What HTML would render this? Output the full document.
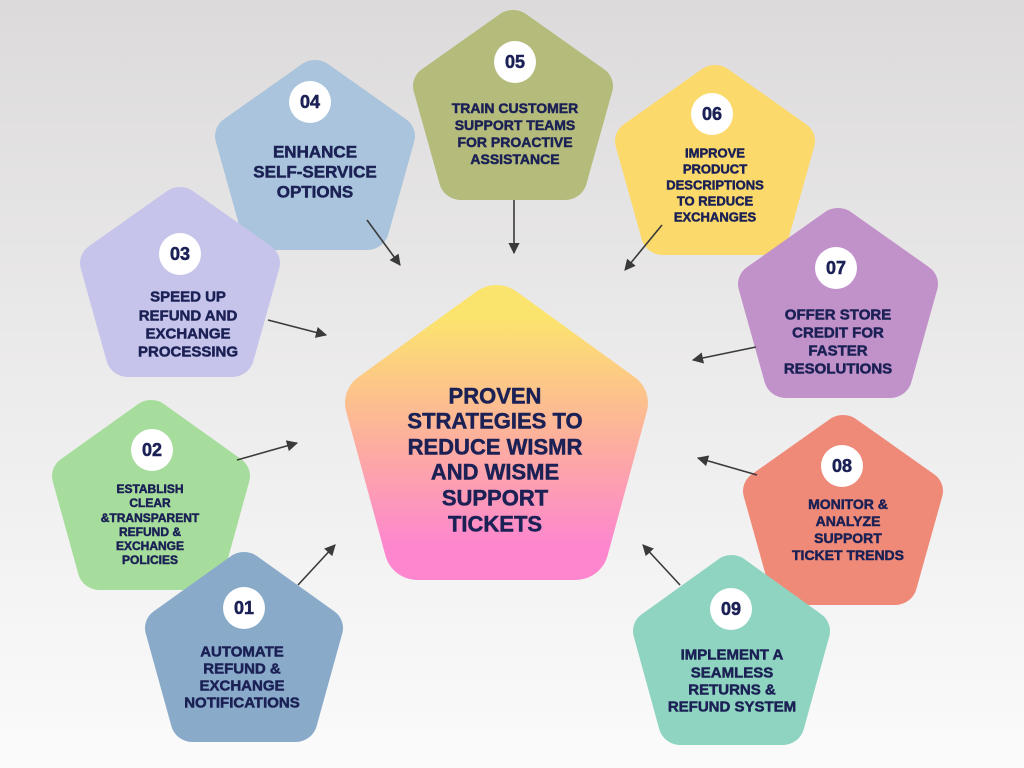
<!DOCTYPE html>
<html><head><meta charset="utf-8">
<style>
html,body{margin:0;padding:0;width:1024px;height:768px;overflow:hidden}
body{background:linear-gradient(#dcdada 0%,#ebeaea 45%,#fbfbfb 100%)}
svg{display:block}
text{font-family:"Liberation Sans",sans-serif;font-weight:bold;fill:#1b2155;stroke:#1b2155;stroke-width:0.5;text-anchor:middle;dominant-baseline:central}
</style></head><body>
<svg width="1024" height="768" viewBox="0 0 1024 768">
<defs>
<linearGradient id="cg" x1="0" y1="0" x2="0" y2="1">
<stop offset="0" stop-color="#fbe46e"/><stop offset="0.5" stop-color="#fdb29a"/><stop offset="1" stop-color="#fd86cf"/>
</linearGradient>
<marker id="ah" viewBox="0 0 10 10" refX="9" refY="5" markerWidth="7" markerHeight="7" orient="auto">
<path d="M0,0 L10,5 L0,10 Z" fill="#3a3a3a"/></marker>
</defs>
<g stroke-linejoin="round" stroke-width="22">
<polygon transform="translate(215,60) scale(2,1.9)" points="50,11 89,40 76,89 24,89 11,40" fill="#a9c4dc" stroke="#a9c4dc"/>
<polygon transform="translate(413,10) scale(2,1.9)" points="50,11 89,40 76,89 24,89 11,40" fill="#b4bb7b" stroke="#b4bb7b"/>
<polygon transform="translate(615,65) scale(2,1.9)" points="50,11 89,40 76,89 24,89 11,40" fill="#fbd96b" stroke="#fbd96b"/>
<polygon transform="translate(80,187) scale(2,1.9)" points="50,11 89,40 76,89 24,89 11,40" fill="#c6c4ea" stroke="#c6c4ea"/>
<polygon transform="translate(738,208) scale(2,1.9)" points="50,11 89,40 76,89 24,89 11,40" fill="#c191ca" stroke="#c191ca"/>
<polygon transform="translate(52,400) scale(1.98,1.9)" points="50,11 89,40 76,89 24,89 11,40" fill="#a6dd9c" stroke="#a6dd9c"/>
<polygon transform="translate(743,415) scale(2,1.9)" points="50,11 89,40 76,89 24,89 11,40" fill="#ef8a78" stroke="#ef8a78"/>
<polygon transform="translate(145,552) scale(1.98,1.9)" points="50,11 89,40 76,89 24,89 11,40" fill="#8aaaca" stroke="#8aaaca"/>
<polygon transform="translate(633,555) scale(1.97,1.9)" points="50,11 89,40 76,89 24,89 11,40" fill="#8fd4c1" stroke="#8fd4c1"/>
<polygon transform="translate(345,285) scale(3.03,2.95)" points="50,11 89,40 76,89 24,89 11,40" fill="url(#cg)" stroke="url(#cg)"/>
</g>
<g stroke="#3a3a3a" stroke-width="1.6" marker-end="url(#ah)">
<line x1="367" y1="220" x2="400" y2="265"/>
<line x1="514" y1="200" x2="514" y2="253"/>
<line x1="662" y1="225" x2="625" y2="270"/>
<line x1="268" y1="320" x2="326" y2="335"/>
<line x1="756" y1="347" x2="693" y2="360"/>
<line x1="237" y1="460" x2="297" y2="443"/>
<line x1="757" y1="475" x2="698" y2="458"/>
<line x1="298" y1="585" x2="335" y2="545"/>
<line x1="680" y1="585" x2="643" y2="545"/>
</g>
<g fill="#fff">
<circle cx="310" cy="102" r="21"/><circle cx="515" cy="62" r="21"/><circle cx="712" cy="114" r="21"/>
<circle cx="180" cy="254" r="21"/><circle cx="836" cy="268" r="21"/><circle cx="152" cy="450" r="21"/>
<circle cx="842" cy="466" r="21"/><circle cx="244" cy="608" r="21"/><circle cx="731" cy="609" r="21"/>
</g>
<g font-size="18">
<text x="310" y="102">04</text><text x="515" y="62">05</text><text x="712" y="114">06</text>
<text x="180" y="254">03</text><text x="836" y="268">07</text><text x="152" y="450">02</text>
<text x="842" y="466">08</text><text x="244" y="608">01</text><text x="731" y="609">09</text>
</g>
<g font-size="17"><text x="315" y="152">ENHANCE</text><text x="315" y="172">SELF-SERVICE</text><text x="315" y="192">OPTIONS</text></g>
<g font-size="14"><text x="515" y="108">TRAIN CUSTOMER</text><text x="515" y="125">SUPPORT TEAMS</text><text x="515" y="142">FOR PROACTIVE</text><text x="515" y="159">ASSISTANCE</text></g>
<g font-size="13"><text x="715" y="153">IMPROVE</text><text x="715" y="169">PRODUCT</text><text x="715" y="185">DESCRIPTIONS</text><text x="715" y="201">TO REDUCE</text><text x="715" y="217">EXCHANGES</text></g>
<g font-size="15"><text x="188" y="297">SPEED UP</text><text x="188" y="316">REFUND AND</text><text x="188" y="334">EXCHANGE</text><text x="188" y="352">PROCESSING</text></g>
<g font-size="15"><text x="838" y="315">OFFER STORE</text><text x="838" y="333">CREDIT FOR</text><text x="838" y="351">FASTER</text><text x="838" y="369">RESOLUTIONS</text></g>
<g font-size="12"><text x="150" y="489">ESTABLISH</text><text x="150" y="503">CLEAR</text><text x="150" y="518">&amp;TRANSPARENT</text><text x="150" y="532">REFUND &amp;</text><text x="150" y="546">EXCHANGE</text><text x="150" y="560">POLICIES</text></g>
<g font-size="14"><text x="848" y="504">MONITOR &amp;</text><text x="848" y="521">ANALYZE</text><text x="848" y="538">SUPPORT</text><text x="848" y="555">TICKET TRENDS</text></g>
<g font-size="15"><text x="242" y="652">AUTOMATE</text><text x="242" y="669">REFUND &amp;</text><text x="242" y="686">EXCHANGE</text><text x="242" y="703">NOTIFICATIONS</text></g>
<g font-size="15"><text x="732" y="655">IMPLEMENT A</text><text x="732" y="673">SEAMLESS</text><text x="732" y="690">RETURNS &amp;</text><text x="732" y="707">REFUND SYSTEM</text></g>
<g font-size="22"><text x="495" y="396">PROVEN</text><text x="495" y="421">STRATEGIES TO</text><text x="495" y="447">REDUCE WISMR</text><text x="495" y="472">AND WISME</text><text x="495" y="498">SUPPORT</text><text x="495" y="524">TICKETS</text></g>
</svg>
</body></html>
